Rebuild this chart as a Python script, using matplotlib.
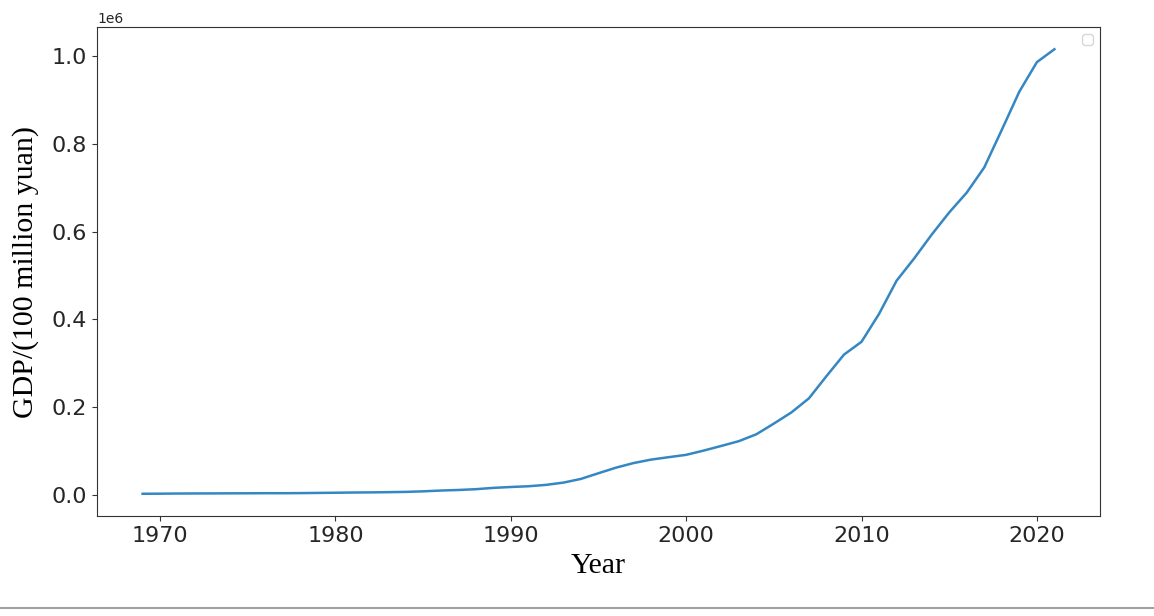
import matplotlib
matplotlib.use("Agg")
import matplotlib.pyplot as plt
from matplotlib.lines import Line2D

years = list(range(1969, 2022))
gdp = [1727, 1946, 2280, 2457, 2552, 2752, 2822, 3014, 2989, 3250, 3679,
       4100, 4588, 4891, 5373, 6020, 7279, 9099, 10376, 12175, 15180,
       17180, 18873, 22006, 27195, 35673, 48638, 61340, 71814, 79715, 85196,
       90564, 100280, 110863, 121717, 137422, 161840, 187319, 219439, 270092,
       319245, 348518, 412119, 487940, 538580, 592963, 643563, 688858, 746395,
       832036, 919281, 986515, 1015986]

fig = plt.figure(figsize=(11.54, 6.16), dpi=100)
ax = fig.add_axes([97/1154, 1 - 516/616, (1100-97)/1154, (516-27)/616])
ax.plot(years, gdp, color="#3587c4", linewidth=1.8)
ax.legend(loc="upper right")

ax.set_xlabel("Year", family="Liberation Serif", fontsize=21.5, labelpad=5)
ax.set_ylabel("GDP/(100 million yuan)", family="Liberation Serif", fontsize=21.5, labelpad=9)
ax.tick_params(labelsize=16, labelcolor="#262626", color="#333333")
for s in ax.spines.values():
    s.set_color("#333333")

fig.add_artist(Line2D([0, 1], [1 - 608/616, 1 - 608/616], color="#a0a0a0", linewidth=1.5,
                      transform=fig.transFigure))

fig.savefig("out.png", dpi=100)
